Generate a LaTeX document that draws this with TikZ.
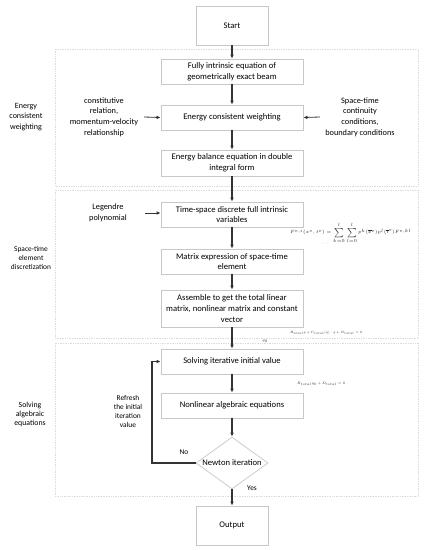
\documentclass[tikz,border=0pt]{standalone}
\usepackage{fontspec}
\usepackage{graphicx}
\setmainfont{Carlito}
\usetikzlibrary{arrows.meta,shapes.geometric}
\begin{document}
\begin{tikzpicture}[x=1pt,y=-1pt,
  box/.style={draw=black!22,line width=0.7pt,fill=white,align=center,font=\fontsize{8.6}{10.8}\selectfont,inner sep=0pt},
  sect/.style={draw=black!14,densely dotted,line width=0.7pt},
  arr/.style={draw=black!80,line width=1.1pt,-{Latex[length=4pt,width=3.6pt]}},
  side/.style={align=center,font=\fontsize{8.3}{10.8}\selectfont},
  slabel/.style={align=center,font=\fontsize{7.4}{9.2}\selectfont},
  eq/.style={font=\fontsize{5}{6}\selectfont,inner sep=0pt,text=black!85}]
\useasboundingbox (0,0) rectangle (425,550);
% sections
\draw[sect] (55,49) rectangle (418,186);
\draw[sect] (55,190) rectangle (418,338);
\draw[sect] (55,343) rectangle (418,496);
% nodes
\node[box,minimum width=72,minimum height=39] (start) at (232,25.5) {Start};
\node[box,minimum width=142,minimum height=25] (fie) at (232,71.5) {Fully intrinsic equation of\\geometrically exact beam};
\node[box,minimum width=142,minimum height=25] (ecw) at (232,117.5) {Energy consistent weighting};
\node[box,minimum width=142,minimum height=26] (ebe) at (232,163) {Energy balance equation in double\\integral form};
\node[box,minimum width=142,minimum height=25] (tsd) at (232,214.5) {Time-space discrete full intrinsic\\variables};
\node[box,minimum width=142,minimum height=25] (mex) at (232,261.5) {Matrix expression of space-time\\element};
\node[box,minimum width=142,minimum height=37] (asm) at (232,308.5) {Assemble to get the total linear\\matrix, nonlinear matrix and constant\\vector};
\node[box,minimum width=142,minimum height=25] (siv) at (232,361.5) {Solving iterative initial value};
\node[box,minimum width=142,minimum height=25] (nae) at (232,405.5) {Nonlinear algebraic equations};
\node[box,diamond,aspect=1.4,minimum width=72,minimum height=52] (newt) at (232,463) {Newton iteration};
\node[box,minimum width=72,minimum height=39] (out) at (232,525.5) {Output};
% side labels
\node[side] (con) at (104,117) {constitutive\\relation,\\momentum-velocity\\relationship};
\node[side] (stc) at (360,117) {Space-time\\continuity\\conditions,\\boundary conditions};
\node[side] (leg) at (108,213) {Legendre\\polynomial};
\node[side,font=\fontsize{7.4}{9}\selectfont] (ref) at (128,411) {Refresh\\the initial\\iteration\\value};
\node[side,font=\fontsize{7.4}{9}\selectfont] (no) at (184,452) {No};
\node[side,font=\fontsize{7.4}{9}\selectfont] (yes) at (252,488) {Yes};
% section labels
\node[slabel,font=\fontsize{8}{10.8}\selectfont] (s1) at (26,117) {Energy\\consistent\\weighting};
\node[slabel] (s2) at (31,258) {Space-time\\element\\discretization};
\node[slabel,font=\fontsize{7.8}{9}\selectfont] (s3) at (30,414) {Solving\\algebraic\\equations};
% equations
\node[eq,anchor=west] (eqF) at (290,233) {\scalebox{0.92}{$F^{e,i}(x^e,t^e)=\sum\limits_{k=0}^{l}\,\sum\limits_{l=0}^{l}p^k(\overline{x}^e)p^l(\overline{t}^e)F^{e,kl}$}};
\node[eq] (dots) at (325,243.5) {\scalebox{0.8}{$\cdots$}};
\node[eq,anchor=west] (eqB) at (290,333) {\scalebox{0.63}{$B_{total}q+C_{total}(q)\cdot q+D_{total}=0$}};
\node[eq] (q0) at (265,341) {\scalebox{0.75}{$q_0$}};
\node[eq,anchor=west] (eqB0) at (297,383.5) {\scalebox{0.68}{$B_{total}q_0+D_{total}=0$}};
% coordinates
\coordinate (conR) at (144,117);
\coordinate (stcL) at (320,117);
\coordinate (legR) at (145,213);
\coordinate (loopA) at (152,463);
\coordinate (loopB) at (152,361.5);
% connectors
\draw[arr] (start) -- (fie);
\draw[arr] (fie) -- (ecw);
\draw[arr] (ecw) -- (ebe);
\draw[arr] (ebe) -- (tsd);
\draw[arr] (tsd) -- (mex);
\draw[arr] (mex) -- (asm);
\draw[arr] (asm) -- (siv);
\draw[arr] (siv) -- (nae);
\draw[arr] (nae) -- (newt);
\draw[arr] (newt) -- (out);
\draw[arr,line width=0.8pt] (conR) -- (ecw.west);
\draw[arr,line width=0.8pt] (stcL) -- (ecw.east);
\draw[arr,line width=0.8pt] (legR) -- (tsd.west |- legR);
\draw[arr] (newt.west) -- (loopA) -- (loopB) -- (siv.west);
\end{tikzpicture}
\end{document}
